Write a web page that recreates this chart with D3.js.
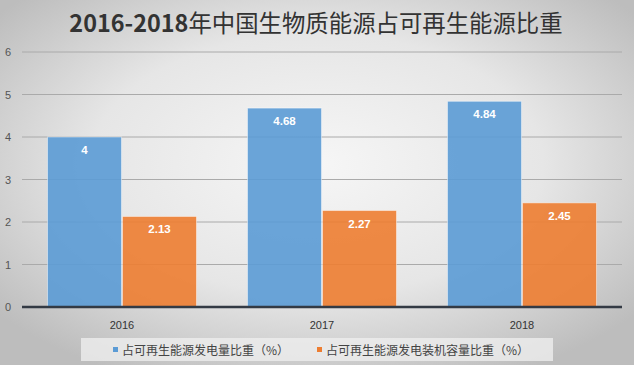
<!DOCTYPE html>
<html><head><meta charset="utf-8">
<script src="https://cdn.jsdelivr.net/npm/d3@7"></script>
<style>html,body{margin:0;padding:0;background:#e6e6e6;}svg{display:block;}</style>
</head><body>
<svg id="chart" width="634" height="365"></svg>
<script>
const categories = ["2016", "2017", "2018"];
const seriesNames = ["占可再生能源发电量比重（%）", "占可再生能源发电装机容量比重（%）"];
const powerShare = [4, 4.68, 4.84];
const capacityShare = [2.13, 2.27, 2.45];
const yTicks = [0, 1, 2, 3, 4, 5, 6];
const titleNum = "2016-2018";
const titleText = "年中国生物质能源占可再生能源比重";

const colors = ["#5b9bd5", "#ed7d31"];
const W = 634, H = 365;
const svg = d3.select("#chart");
const defs = svg.append("defs");
const rg = defs.append("radialGradient").attr("id", "bg").attr("cx", "50%").attr("cy", "45%").attr("r", "65%");
rg.append("stop").attr("offset", "0%").attr("stop-color", "#f6f6f6");
rg.append("stop").attr("offset", "55%").attr("stop-color", "#e6e6e6");
rg.append("stop").attr("offset", "100%").attr("stop-color", "#bdbdbd");
svg.append("rect").attr("width", W).attr("height", H).attr("fill", "url(#bg)");

const x0 = d3.scaleBand().domain(categories).range([22, 622]).paddingInner(0.25).paddingOuter(0.125);
const x1 = d3.scaleBand().domain([0, 1]).range([0, x0.bandwidth()]);
const y = d3.scaleLinear().domain([0, 6]).range([307, 52]);

// gridlines
svg.append("g").selectAll("line").data(yTicks.filter(d => d > 0)).join("line")
  .attr("x1", 22).attr("x2", 622).attr("y1", d => y(d)).attr("y2", d => y(d))
  .attr("stroke", "#aaaaaa").attr("stroke-width", 1);

// y labels
svg.append("g").selectAll("text").data(yTicks).join("text")
  .attr("x", 8).attr("y", d => y(d) + 4).attr("text-anchor", "middle")
  .attr("font-family", "Liberation Sans, Arial, sans-serif").attr("font-size", 11).attr("fill", "#555")
  .text(d => d);

const series = [powerShare, capacityShare];
const g = svg.append("g");
series.forEach((vals, si) => {
  g.append("g").selectAll("rect").data(vals).join("rect")
    .attr("x", (d, i) => x0(categories[i]) + x1(si) + 0.5)
    .attr("width", x1.bandwidth() - 1)
    .attr("y", d => y(d))
    .attr("height", d => y(0) - y(d))
    .attr("fill", colors[si]).attr("fill-opacity", 0.9)
    .attr("stroke", "rgba(255,255,255,0.45)").attr("stroke-width", 1);
  g.append("g").selectAll("text").data(vals).join("text")
    .attr("x", (d, i) => x0(categories[i]) + x1(si) + x1.bandwidth() / 2)
    .attr("y", d => y(d) + 17)
    .attr("text-anchor", "middle")
    .attr("font-family", "Liberation Sans, Arial, sans-serif").attr("font-weight", "bold")
    .attr("font-size", 11.5).attr("fill", "#fff")
    .text(d => d);
});

// axis line
svg.append("line").attr("x1", 22).attr("x2", 622).attr("y1", y(0)).attr("y2", y(0))
  .attr("stroke", "#333a44").attr("stroke-width", 2.5);

// x labels
svg.append("g").selectAll("text").data(categories).join("text")
  .attr("x", d => x0(d) + x0.bandwidth() / 2).attr("y", 329).attr("text-anchor", "middle")
  .attr("font-family", "Liberation Sans, Arial, sans-serif").attr("font-size", 11).attr("fill", "#333")
  .text(d => d);

// title
const t = svg.append("text").attr("x", 316).attr("y", 32).attr("text-anchor", "middle")
  .attr("font-family", "'Noto Sans CJK SC', sans-serif").attr("font-size", 23.4).attr("fill", "#333");
t.append("tspan").attr("font-weight", "bold").text(titleNum);
t.append("tspan").attr("font-weight", "400").text(titleText);

// legend
svg.append("rect").attr("x", 81).attr("y", 338).attr("width", 472).attr("height", 23)
  .attr("fill", "#eeeeee").attr("fill-opacity", 0.8);
const legX = [113, 317];
seriesNames.forEach((n, i) => {
  svg.append("rect").attr("x", legX[i]).attr("y", 347).attr("width", 5).attr("height", 5).attr("fill", colors[i]);
  svg.append("text").attr("x", legX[i] + 9).attr("y", 354.5)
    .attr("font-family", "'Noto Sans CJK SC', sans-serif").attr("font-size", 12).attr("fill", "#444")
    .text(n);
});
</script>
</body></html>
